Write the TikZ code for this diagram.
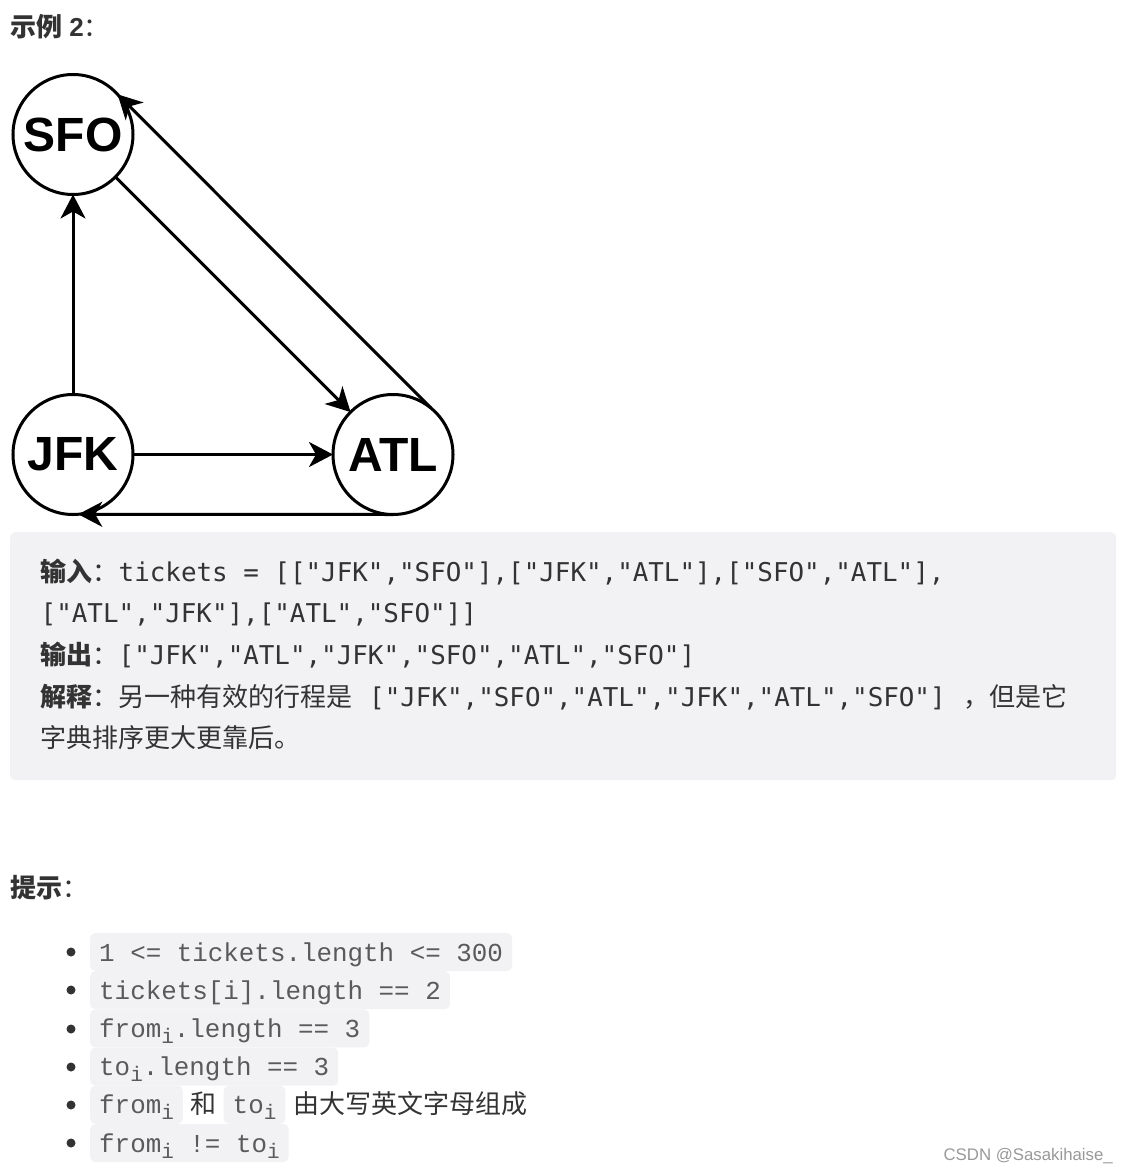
\documentclass[tikz,border=0pt]{standalone}
\usepackage{fontspec}
\setmainfont{Liberation Sans}
\newfontfamily\cjk{Noto Sans CJK SC}
\newfontfamily\codefont{DejaVu Sans Mono}
\newfontfamily\listfont{Liberation Mono}
\usetikzlibrary {arrows.meta,positioning}
\definecolor{blockgray}{HTML}{F2F2F5}
\definecolor{inktext}{HTML}{333333}
\definecolor{chipink}{HTML}{5A5A5A}
\newcommand{\subi}{\raisebox{-6pt}{\fontsize{21}{21}\selectfont i}}
\newcommand{\codesize}{\fontsize{25.88}{26}\selectfont}
\tikzset{
  textline/.style={inner sep=0pt,anchor=base west,text=inktext,font=\fontsize{26}{26}\selectfont},
  chip/.style={fill=blockgray,rounded corners=5pt,inner xsep=9pt,inner ysep=0pt,anchor=base west,
    text height=28pt,text depth=10pt,text=chipink,font=\listfont\fontsize{25.88}{26}\selectfont},
  dotmark/.style={circle,fill=inktext,inner sep=0pt,minimum size=9pt},
}
\begin{document}
\begin{tikzpicture}[x=1pt,y=-1pt,node distance= 320pt]
      \useasboundingbox (0,0) rectangle (1128,1172);
      \fill[white] (0,0) rectangle (1128,1172);
      \node[textline] (title) at (10,37) {{\cjk\bfseries 示例} {\bfseries 2}{\cjk ：}};
      \begin{scope}[every node/.style={circle,draw= black,line width= 3pt,minimum size= 120pt,
          inner sep= 0pt,outer sep= 0pt,font=\fontsize{48}{48}\selectfont\bfseries}]
        \node (SFO) at (73,134.5) {SFO};
        \node (JFK) [below of= SFO] {JFK};
        \node (ATL) [right of= JFK] {ATL};
      \end{scope}
      \begin{scope}
        [every edge/.style={draw= black,line width= 3pt}]
        \path[-{Stealth[length= 24pt,width= 25pt,inset= 7pt]}] (JFK.north) edge (SFO.south);
        \path[-{Stealth[length= 24pt,width= 25pt,inset= 7pt]}] (SFO.-45) edge (ATL.135);
        \path[-{Stealth[length= 24pt,width= 25pt,inset= 7pt]}] (ATL.51) edge (SFO.42);
        \path[-{Stealth[length= 24pt,width= 25pt,inset= 7pt]}] (JFK.east) edge (ATL.west);
        \path[-{Stealth[length= 24pt,width= 25pt,inset= 7pt]}] (ATL.south) edge (JFK.-85);
      \end{scope}
      % example block
      \node[fill=blockgray,rounded corners=5pt,inner sep=0pt,minimum width=1106pt,minimum height=248pt,
        anchor=north west] (block) at (10,532) {};
      \begin{scope}[every node/.append style={textline}]
        \node (input) at (40.5,581.5) {{\cjk\bfseries 输入}{\cjk ：}\codefont\codesize tickets = [["JFK","SFO"],["JFK","ATL"],["SFO","ATL"],};
        \node (inputb) at (40.5,622.5) {\codefont\codesize ["ATL","JFK"],["ATL","SFO"]]};
        \node (output) at (40.5,664.5) {{\cjk\bfseries 输出}{\cjk ：}\codefont\codesize ["JFK","ATL","JFK","SFO","ATL","SFO"]};
        \node (explain) at (40.5,706) {{\cjk\bfseries 解释}{\cjk ：另一种有效的行程是}};
        \node (route) at (369,706) {\codefont\codesize ["JFK","SFO","ATL","JFK","ATL","SFO"]};
        \node (rest) at (963,706) {\cjk ，但是它};
        \node (explainb) at (40.5,747.5) {\cjk 字典排序更大更靠后。};
        \node (hint) at (10,897) {{\cjk\bfseries 提示}{\cjk ：}};
      \end{scope}
      % constraints
      \node[chip] (lenall) at (90,961) {1 <= tickets.length <= 300};
      \node[chip] (lenpair) at (90,999.2) {tickets[i].length == 2};
      \node[chip] (lenfrom) at (90,1037.4) {from\subi.length == 3};
      \node[chip] (lento) at (90,1075.6) {to\subi.length == 3};
      \node[chip] (chipfrom) at (90,1113.8) {from\subi};
      \node[textline] (he) [base right= 7pt of chipfrom] {\cjk 和};
      \node[chip] (chipto) [base right= 7pt of he] {to\subi};
      \node[textline] (upper) [base right= 8pt of chipto] {\cjk 由大写英文字母组成};
      \node[chip] (differ) at (90,1152) {from\subi{} != to\subi};
      \foreach \i/\yy in {a/952,b/990,c/1029,d/1067,e/1105,f/1143}
        \node[dotmark] (dot\i) at (71,\yy) {};
      \node[inner sep=0pt,anchor=base east,text=black!40,font=\fontsize{16.8}{17}\selectfont] (mark) at (1113,1160) {CSDN @Sasakihaise\_};
    \end{tikzpicture}
\end{document}
